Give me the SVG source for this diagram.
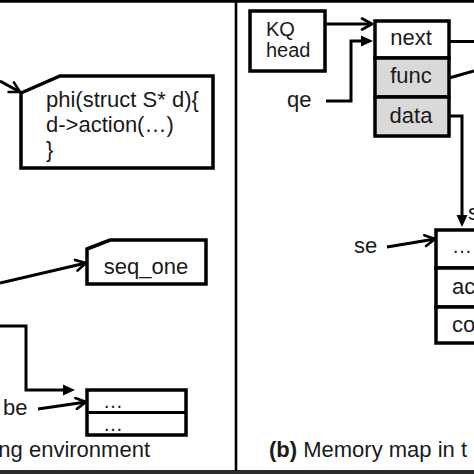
<svg xmlns="http://www.w3.org/2000/svg" width="474" height="474" viewBox="0 0 474 474">
<defs>
<style>
text{font-family:"Liberation Sans",Arial,sans-serif;font-size:22px;fill:#1a1a1a}
.box{fill:#fff;stroke:#000;stroke-width:3.5}
.gray{fill:#d9d9d9;stroke:#000;stroke-width:3.5}
.wire{fill:none;stroke:#000;stroke-width:3}
.o{marker-end:url(#open)}
.s{marker-end:url(#solid)}
</style>
<marker id="open" viewBox="0 0 14 14" refX="12" refY="7" markerWidth="14" markerHeight="14" markerUnits="userSpaceOnUse" orient="auto">
<path d="M2,1.5 L12,7 L2,12.5" fill="none" stroke="#000" stroke-width="2.6" stroke-linecap="round" stroke-linejoin="round"/>
</marker>
<marker id="solid" viewBox="0 0 12 12" refX="8" refY="6" markerWidth="12" markerHeight="12" markerUnits="userSpaceOnUse" orient="auto">
<path d="M0,0.5 L12,6 L0,11.5 Z" fill="#000"/>
</marker>
</defs>
<rect width="474" height="474" fill="#fff"/>
<g id="frame">
<line x1="0" y1="1.4" x2="474" y2="1.4" stroke="#000" stroke-width="2.8"/>
<rect x="0" y="470" width="474" height="4" fill="#2b2b2b"/>
<line x1="236" y1="0" x2="236" y2="471" stroke="#000" stroke-width="2.6"/>
</g>
<g id="connectors">
<path class="wire o" d="M0,81 L20,92"/>
<path class="wire o" d="M0,283 L86,263"/>
<path class="wire s" d="M0,326 L26,326 L26,390 L71,390"/>
<path class="wire o" d="M38,409 L86,402"/>
<path class="wire o" d="M326,24 L372,24"/>
<path class="wire s" d="M326,101 L351,101 L351,41 L369,41"/>
<path class="wire" d="M449,41.5 L474,41.5"/>
<path class="wire" d="M449,78 L474,71"/>
<path class="wire s" d="M449,116 L462,116 L462,223"/>
<path class="wire o" d="M387,247 L435,239"/>
</g>
<g id="phi">
<path class="box" d="M21,93 L60,76 L213,76 L213,168 L21,168 Z"/>
<text x="46" y="107">phi(struct S* d){</text>
<text x="46" y="132">d-&gt;action(…)</text>
<text x="46" y="157">}</text>
</g>
<g id="seq_one">
<path class="box" d="M87,249 L110,240 L206,240 L206,284 L87,284 Z"/>
<text x="146" y="274" text-anchor="middle">seq_one</text>
</g>
<g id="be">
<text x="3" y="415">be</text>
<rect class="box" x="87" y="390" width="99" height="45" stroke-width="3"/>
<line x1="87" y1="412.5" x2="186" y2="412.5" stroke="#000" stroke-width="3"/>
<text x="103" y="408" font-size="20" style="font-size:20px">…</text>
<text x="103" y="431" style="font-size:20px">…</text>
</g>
<g id="caption-a">
<text x="150" y="457" text-anchor="end">ng environment</text>
</g>
<g id="kq-head">
<rect class="box" x="250" y="11" width="75" height="60" stroke-width="3"/>
<text x="266" y="36" style="font-size:20px">KQ</text>
<text x="266" y="57" style="font-size:20px">head</text>
</g>
<g id="qe">
<text x="287" y="107">qe</text>
</g>
<g id="kq-entry">
<rect class="box" x="375" y="21" width="74" height="37"/>
<rect class="gray" x="375" y="58" width="74" height="39"/>
<rect class="gray" x="375" y="97" width="74" height="39"/>
<text x="411" y="45" text-anchor="middle">next</text>
<text x="411" y="83" text-anchor="middle">func</text>
<text x="411" y="123" text-anchor="middle">data</text>
</g>
<g id="s-label">
<text x="468" y="220">s</text>
</g>
<g id="se">
<text x="354" y="253">se</text>
</g>
<g id="seq-struct">
<rect class="box" x="436" y="230" width="60" height="38"/>
<rect class="box" x="436" y="268" width="60" height="39"/>
<rect class="box" x="436" y="307" width="60" height="36"/>
<text x="452" y="253" style="font-size:20px">…</text>
<text x="452" y="294">ac</text>
<text x="452" y="332">co</text>
</g>
<g id="caption-b">
<text x="269" y="457"><tspan font-weight="bold">(b)</tspan> Memory map in t</text>
</g>
</svg>
